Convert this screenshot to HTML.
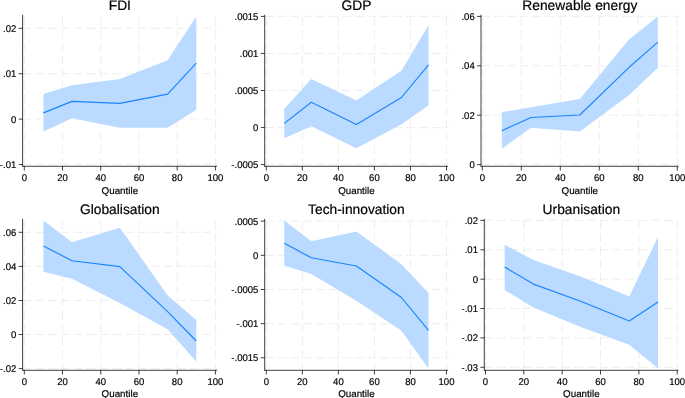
<!DOCTYPE html>
<html lang="en"><head><meta charset="utf-8"><title>Quantile regression coefficient plots</title>
<style>html,body{margin:0;padding:0;background:#fff}body{width:685px;height:398px;overflow:hidden}svg{display:block}</style>
</head><body>
<svg width="685" height="398" viewBox="0 0 685 398" font-family='"Liberation Sans", Arial, Helvetica, sans-serif' text-rendering="geometricPrecision">
<rect width="685" height="398" fill="#fff"/>
<g stroke="#e7e7e7" stroke-width="0.7" stroke-dasharray="8.6 4.25" fill="none"><line x1="24.30" y1="167.00" x2="24.30" y2="14.80"/><line x1="62.52" y1="167.00" x2="62.52" y2="14.80"/><line x1="100.74" y1="167.00" x2="100.74" y2="14.80"/><line x1="138.96" y1="167.00" x2="138.96" y2="14.80"/><line x1="177.18" y1="167.00" x2="177.18" y2="14.80"/><line x1="215.40" y1="167.00" x2="215.40" y2="14.80"/><line x1="22.60" y1="28.30" x2="217.10" y2="28.30"/><line x1="22.60" y1="73.70" x2="217.10" y2="73.70"/><line x1="22.60" y1="119.10" x2="217.10" y2="119.10"/><line x1="22.60" y1="164.50" x2="217.10" y2="164.50"/></g>
<polygon points="43.41,94.10 72.08,85.30 119.85,78.90 167.62,60.20 196.29,16.40 196.29,109.80 167.62,127.80 119.85,127.80 72.08,118.30 43.41,131.60" fill="#badaff"/>
<polyline points="43.41,112.90 72.08,101.40 119.85,103.40 167.62,94.10 196.29,63.10" fill="none" stroke="#1a85ff" stroke-width="1.15" stroke-linejoin="round"/>
<g stroke="#000" stroke-width="0.75" fill="none"><line x1="22.60" y1="14.80" x2="22.60" y2="166.60"/><line x1="22.30" y1="166.30" x2="217.10" y2="166.30"/><line x1="24.30" y1="166.30" x2="24.30" y2="170.50"/><line x1="62.52" y1="166.30" x2="62.52" y2="170.50"/><line x1="100.74" y1="166.30" x2="100.74" y2="170.50"/><line x1="138.96" y1="166.30" x2="138.96" y2="170.50"/><line x1="177.18" y1="166.30" x2="177.18" y2="170.50"/><line x1="215.40" y1="166.30" x2="215.40" y2="170.50"/><line x1="18.70" y1="28.30" x2="22.60" y2="28.30"/><line x1="18.70" y1="73.70" x2="22.60" y2="73.70"/><line x1="18.70" y1="119.10" x2="22.60" y2="119.10"/><line x1="18.70" y1="164.50" x2="22.60" y2="164.50"/></g>
<g font-size="9.8" fill="#000" stroke="#000" stroke-width="0.18"><text transform="translate(24.30,180.95) scale(0.975,1)" text-anchor="middle">0</text><text transform="translate(62.52,180.95) scale(0.975,1)" text-anchor="middle">20</text><text transform="translate(100.74,180.95) scale(0.975,1)" text-anchor="middle">40</text><text transform="translate(138.96,180.95) scale(0.975,1)" text-anchor="middle">60</text><text transform="translate(177.18,180.95) scale(0.975,1)" text-anchor="middle">80</text><text transform="translate(215.40,180.95) scale(0.975,1)" text-anchor="middle">100</text><text transform="translate(16.30,31.75) scale(0.975,1)" text-anchor="end">.02</text><text transform="translate(16.30,77.15) scale(0.975,1)" text-anchor="end">.01</text><text transform="translate(16.30,122.55) scale(0.975,1)" text-anchor="end">0</text><text transform="translate(16.30,167.95) scale(0.975,1)" text-anchor="end">-.01</text><text x="119.85" y="193.60" text-anchor="middle">Quantile</text></g>
<text x="119.85" y="9.70" text-anchor="middle" font-size="13.8" fill="#000" stroke="#000" stroke-width="0.2">FDI</text>
<g stroke="#e7e7e7" stroke-width="0.7" stroke-dasharray="8.6 4.25" fill="none"><line x1="266.30" y1="167.00" x2="266.30" y2="14.80"/><line x1="302.34" y1="167.00" x2="302.34" y2="14.80"/><line x1="338.38" y1="167.00" x2="338.38" y2="14.80"/><line x1="374.42" y1="167.00" x2="374.42" y2="14.80"/><line x1="410.46" y1="167.00" x2="410.46" y2="14.80"/><line x1="446.50" y1="167.00" x2="446.50" y2="14.80"/><line x1="264.70" y1="16.40" x2="448.10" y2="16.40"/><line x1="264.70" y1="53.45" x2="448.10" y2="53.45"/><line x1="264.70" y1="90.50" x2="448.10" y2="90.50"/><line x1="264.70" y1="127.55" x2="448.10" y2="127.55"/><line x1="264.70" y1="164.60" x2="448.10" y2="164.60"/></g>
<polygon points="284.32,108.70 311.35,78.90 356.40,100.50 401.45,70.70 428.48,25.20 428.48,105.50 401.45,124.30 356.40,148.20 311.35,126.30 284.32,138.30" fill="#badaff"/>
<polyline points="284.32,123.40 311.35,102.30 356.40,124.40 401.45,97.50 428.48,64.90" fill="none" stroke="#1a85ff" stroke-width="1.15" stroke-linejoin="round"/>
<g stroke="#000" stroke-width="0.75" fill="none"><line x1="264.70" y1="14.80" x2="264.70" y2="166.60"/><line x1="264.40" y1="166.30" x2="448.10" y2="166.30"/><line x1="266.30" y1="166.30" x2="266.30" y2="170.50"/><line x1="302.34" y1="166.30" x2="302.34" y2="170.50"/><line x1="338.38" y1="166.30" x2="338.38" y2="170.50"/><line x1="374.42" y1="166.30" x2="374.42" y2="170.50"/><line x1="410.46" y1="166.30" x2="410.46" y2="170.50"/><line x1="446.50" y1="166.30" x2="446.50" y2="170.50"/><line x1="260.80" y1="16.40" x2="264.70" y2="16.40"/><line x1="260.80" y1="53.45" x2="264.70" y2="53.45"/><line x1="260.80" y1="90.50" x2="264.70" y2="90.50"/><line x1="260.80" y1="127.55" x2="264.70" y2="127.55"/><line x1="260.80" y1="164.60" x2="264.70" y2="164.60"/></g>
<g font-size="9.8" fill="#000" stroke="#000" stroke-width="0.18"><text transform="translate(266.30,180.95) scale(0.975,1)" text-anchor="middle">0</text><text transform="translate(302.34,180.95) scale(0.975,1)" text-anchor="middle">20</text><text transform="translate(338.38,180.95) scale(0.975,1)" text-anchor="middle">40</text><text transform="translate(374.42,180.95) scale(0.975,1)" text-anchor="middle">60</text><text transform="translate(410.46,180.95) scale(0.975,1)" text-anchor="middle">80</text><text transform="translate(446.50,180.95) scale(0.975,1)" text-anchor="middle">100</text><text transform="translate(258.40,19.85) scale(0.975,1)" text-anchor="end">.0015</text><text transform="translate(258.40,56.90) scale(0.975,1)" text-anchor="end">.001</text><text transform="translate(258.40,93.95) scale(0.975,1)" text-anchor="end">.0005</text><text transform="translate(258.40,131.00) scale(0.975,1)" text-anchor="end">0</text><text transform="translate(258.40,168.05) scale(0.975,1)" text-anchor="end">-.0005</text><text x="356.40" y="193.60" text-anchor="middle">Quantile</text></g>
<text x="356.40" y="9.70" text-anchor="middle" font-size="13.8" fill="#000" stroke="#000" stroke-width="0.2">GDP</text>
<g stroke="#e7e7e7" stroke-width="0.7" stroke-dasharray="8.6 4.25" fill="none"><line x1="482.30" y1="167.00" x2="482.30" y2="14.80"/><line x1="521.30" y1="167.00" x2="521.30" y2="14.80"/><line x1="560.30" y1="167.00" x2="560.30" y2="14.80"/><line x1="599.30" y1="167.00" x2="599.30" y2="14.80"/><line x1="638.30" y1="167.00" x2="638.30" y2="14.80"/><line x1="677.30" y1="167.00" x2="677.30" y2="14.80"/><line x1="481.00" y1="16.40" x2="678.60" y2="16.40"/><line x1="481.00" y1="65.80" x2="678.60" y2="65.80"/><line x1="481.00" y1="115.20" x2="678.60" y2="115.20"/><line x1="481.00" y1="164.60" x2="678.60" y2="164.60"/></g>
<polygon points="501.80,112.20 531.05,107.20 579.80,99.10 628.55,40.10 657.80,16.40 657.80,67.80 628.55,95.60 579.80,131.60 531.05,127.80 501.80,148.80" fill="#badaff"/>
<polyline points="501.80,130.70 531.05,117.50 579.80,115.00 628.55,67.80 657.80,42.10" fill="none" stroke="#1a85ff" stroke-width="1.15" stroke-linejoin="round"/>
<g stroke="#000" stroke-width="0.75" fill="none"><line x1="481.00" y1="14.80" x2="481.00" y2="166.60"/><line x1="480.70" y1="166.30" x2="678.60" y2="166.30"/><line x1="482.30" y1="166.30" x2="482.30" y2="170.50"/><line x1="521.30" y1="166.30" x2="521.30" y2="170.50"/><line x1="560.30" y1="166.30" x2="560.30" y2="170.50"/><line x1="599.30" y1="166.30" x2="599.30" y2="170.50"/><line x1="638.30" y1="166.30" x2="638.30" y2="170.50"/><line x1="677.30" y1="166.30" x2="677.30" y2="170.50"/><line x1="477.10" y1="16.40" x2="481.00" y2="16.40"/><line x1="477.10" y1="65.80" x2="481.00" y2="65.80"/><line x1="477.10" y1="115.20" x2="481.00" y2="115.20"/><line x1="477.10" y1="164.60" x2="481.00" y2="164.60"/></g>
<g font-size="9.8" fill="#000" stroke="#000" stroke-width="0.18"><text transform="translate(482.30,180.95) scale(0.975,1)" text-anchor="middle">0</text><text transform="translate(521.30,180.95) scale(0.975,1)" text-anchor="middle">20</text><text transform="translate(560.30,180.95) scale(0.975,1)" text-anchor="middle">40</text><text transform="translate(599.30,180.95) scale(0.975,1)" text-anchor="middle">60</text><text transform="translate(638.30,180.95) scale(0.975,1)" text-anchor="middle">80</text><text transform="translate(677.30,180.95) scale(0.975,1)" text-anchor="middle">100</text><text transform="translate(474.70,19.85) scale(0.975,1)" text-anchor="end">.06</text><text transform="translate(474.70,69.25) scale(0.975,1)" text-anchor="end">.04</text><text transform="translate(474.70,118.65) scale(0.975,1)" text-anchor="end">.02</text><text transform="translate(474.70,168.05) scale(0.975,1)" text-anchor="end">0</text><text x="579.80" y="193.60" text-anchor="middle">Quantile</text></g>
<text x="579.80" y="9.70" text-anchor="middle" font-size="13.8" fill="#000" stroke="#000" stroke-width="0.2">Renewable energy</text>
<g stroke="#e7e7e7" stroke-width="0.7" stroke-dasharray="8.6 4.25" fill="none"><line x1="24.30" y1="371.00" x2="24.30" y2="218.80"/><line x1="62.52" y1="371.00" x2="62.52" y2="218.80"/><line x1="100.74" y1="371.00" x2="100.74" y2="218.80"/><line x1="138.96" y1="371.00" x2="138.96" y2="218.80"/><line x1="177.18" y1="371.00" x2="177.18" y2="218.80"/><line x1="215.40" y1="371.00" x2="215.40" y2="218.80"/><line x1="22.60" y1="232.30" x2="217.10" y2="232.30"/><line x1="22.60" y1="266.40" x2="217.10" y2="266.40"/><line x1="22.60" y1="300.50" x2="217.10" y2="300.50"/><line x1="22.60" y1="334.50" x2="217.10" y2="334.50"/><line x1="22.60" y1="368.60" x2="217.10" y2="368.60"/></g>
<polygon points="43.41,220.40 72.08,242.30 119.85,227.70 167.62,295.40 196.29,320.10 196.29,361.40 167.62,329.20 119.85,303.00 72.08,278.80 43.41,271.80" fill="#badaff"/>
<polyline points="43.41,246.10 72.08,260.70 119.85,266.60 167.62,311.70 196.29,341.00" fill="none" stroke="#1a85ff" stroke-width="1.15" stroke-linejoin="round"/>
<g stroke="#000" stroke-width="0.75" fill="none"><line x1="22.60" y1="218.80" x2="22.60" y2="370.60"/><line x1="22.30" y1="370.30" x2="217.10" y2="370.30"/><line x1="24.30" y1="370.30" x2="24.30" y2="374.50"/><line x1="62.52" y1="370.30" x2="62.52" y2="374.50"/><line x1="100.74" y1="370.30" x2="100.74" y2="374.50"/><line x1="138.96" y1="370.30" x2="138.96" y2="374.50"/><line x1="177.18" y1="370.30" x2="177.18" y2="374.50"/><line x1="215.40" y1="370.30" x2="215.40" y2="374.50"/><line x1="18.70" y1="232.30" x2="22.60" y2="232.30"/><line x1="18.70" y1="266.40" x2="22.60" y2="266.40"/><line x1="18.70" y1="300.50" x2="22.60" y2="300.50"/><line x1="18.70" y1="334.50" x2="22.60" y2="334.50"/><line x1="18.70" y1="368.60" x2="22.60" y2="368.60"/></g>
<g font-size="9.8" fill="#000" stroke="#000" stroke-width="0.18"><text transform="translate(24.30,384.95) scale(0.975,1)" text-anchor="middle">0</text><text transform="translate(62.52,384.95) scale(0.975,1)" text-anchor="middle">20</text><text transform="translate(100.74,384.95) scale(0.975,1)" text-anchor="middle">40</text><text transform="translate(138.96,384.95) scale(0.975,1)" text-anchor="middle">60</text><text transform="translate(177.18,384.95) scale(0.975,1)" text-anchor="middle">80</text><text transform="translate(215.40,384.95) scale(0.975,1)" text-anchor="middle">100</text><text transform="translate(16.30,235.75) scale(0.975,1)" text-anchor="end">.06</text><text transform="translate(16.30,269.85) scale(0.975,1)" text-anchor="end">.04</text><text transform="translate(16.30,303.95) scale(0.975,1)" text-anchor="end">.02</text><text transform="translate(16.30,337.95) scale(0.975,1)" text-anchor="end">0</text><text transform="translate(16.30,372.05) scale(0.975,1)" text-anchor="end">-.02</text><text x="119.85" y="396.80" text-anchor="middle">Quantile</text></g>
<text x="119.85" y="213.70" text-anchor="middle" font-size="13.8" fill="#000" stroke="#000" stroke-width="0.2">Globalisation</text>
<g stroke="#e7e7e7" stroke-width="0.7" stroke-dasharray="8.6 4.25" fill="none"><line x1="266.30" y1="371.00" x2="266.30" y2="218.80"/><line x1="302.34" y1="371.00" x2="302.34" y2="218.80"/><line x1="338.38" y1="371.00" x2="338.38" y2="218.80"/><line x1="374.42" y1="371.00" x2="374.42" y2="218.80"/><line x1="410.46" y1="371.00" x2="410.46" y2="218.80"/><line x1="446.50" y1="371.00" x2="446.50" y2="218.80"/><line x1="264.70" y1="221.10" x2="448.10" y2="221.10"/><line x1="264.70" y1="255.30" x2="448.10" y2="255.30"/><line x1="264.70" y1="289.50" x2="448.10" y2="289.50"/><line x1="264.70" y1="323.70" x2="448.10" y2="323.70"/><line x1="264.70" y1="357.80" x2="448.10" y2="357.80"/></g>
<polygon points="284.32,220.40 311.35,241.20 356.40,231.50 401.45,264.20 428.48,292.90 428.48,368.40 401.45,330.80 356.40,300.70 311.35,273.90 284.32,265.70" fill="#badaff"/>
<polyline points="284.32,243.20 311.35,257.80 356.40,266.00 401.45,297.50 428.48,330.40" fill="none" stroke="#1a85ff" stroke-width="1.15" stroke-linejoin="round"/>
<g stroke="#000" stroke-width="0.75" fill="none"><line x1="264.70" y1="218.80" x2="264.70" y2="370.60"/><line x1="264.40" y1="370.30" x2="448.10" y2="370.30"/><line x1="266.30" y1="370.30" x2="266.30" y2="374.50"/><line x1="302.34" y1="370.30" x2="302.34" y2="374.50"/><line x1="338.38" y1="370.30" x2="338.38" y2="374.50"/><line x1="374.42" y1="370.30" x2="374.42" y2="374.50"/><line x1="410.46" y1="370.30" x2="410.46" y2="374.50"/><line x1="446.50" y1="370.30" x2="446.50" y2="374.50"/><line x1="260.80" y1="221.10" x2="264.70" y2="221.10"/><line x1="260.80" y1="255.30" x2="264.70" y2="255.30"/><line x1="260.80" y1="289.50" x2="264.70" y2="289.50"/><line x1="260.80" y1="323.70" x2="264.70" y2="323.70"/><line x1="260.80" y1="357.80" x2="264.70" y2="357.80"/></g>
<g font-size="9.8" fill="#000" stroke="#000" stroke-width="0.18"><text transform="translate(266.30,384.95) scale(0.975,1)" text-anchor="middle">0</text><text transform="translate(302.34,384.95) scale(0.975,1)" text-anchor="middle">20</text><text transform="translate(338.38,384.95) scale(0.975,1)" text-anchor="middle">40</text><text transform="translate(374.42,384.95) scale(0.975,1)" text-anchor="middle">60</text><text transform="translate(410.46,384.95) scale(0.975,1)" text-anchor="middle">80</text><text transform="translate(446.50,384.95) scale(0.975,1)" text-anchor="middle">100</text><text transform="translate(258.40,224.55) scale(0.975,1)" text-anchor="end">.0005</text><text transform="translate(258.40,258.75) scale(0.975,1)" text-anchor="end">0</text><text transform="translate(258.40,292.95) scale(0.975,1)" text-anchor="end">-.0005</text><text transform="translate(258.40,327.15) scale(0.975,1)" text-anchor="end">-.001</text><text transform="translate(258.40,361.25) scale(0.975,1)" text-anchor="end">-.0015</text><text x="356.40" y="396.80" text-anchor="middle">Quantile</text></g>
<text x="356.40" y="213.70" text-anchor="middle" font-size="13.8" fill="#000" stroke="#000" stroke-width="0.2">Tech-innovation</text>
<g stroke="#e7e7e7" stroke-width="0.7" stroke-dasharray="8.6 4.25" fill="none"><line x1="485.50" y1="371.00" x2="485.50" y2="218.80"/><line x1="523.84" y1="371.00" x2="523.84" y2="218.80"/><line x1="562.18" y1="371.00" x2="562.18" y2="218.80"/><line x1="600.52" y1="371.00" x2="600.52" y2="218.80"/><line x1="638.86" y1="371.00" x2="638.86" y2="218.80"/><line x1="677.20" y1="371.00" x2="677.20" y2="218.80"/><line x1="484.30" y1="220.40" x2="678.40" y2="220.40"/><line x1="484.30" y1="249.80" x2="678.40" y2="249.80"/><line x1="484.30" y1="279.20" x2="678.40" y2="279.20"/><line x1="484.30" y1="308.50" x2="678.40" y2="308.50"/><line x1="484.30" y1="337.90" x2="678.40" y2="337.90"/><line x1="484.30" y1="367.30" x2="678.40" y2="367.30"/></g>
<polygon points="504.67,244.70 533.42,260.10 581.35,276.80 629.28,296.60 658.03,236.80 658.03,368.40 629.28,344.80 581.35,327.30 533.42,307.50 504.67,289.90" fill="#badaff"/>
<polyline points="504.67,267.10 533.42,284.10 581.35,301.50 629.28,321.00 658.03,302.00" fill="none" stroke="#1a85ff" stroke-width="1.15" stroke-linejoin="round"/>
<g stroke="#000" stroke-width="0.75" fill="none"><line x1="484.30" y1="218.80" x2="484.30" y2="370.60"/><line x1="484.00" y1="370.30" x2="678.40" y2="370.30"/><line x1="485.50" y1="370.30" x2="485.50" y2="374.50"/><line x1="523.84" y1="370.30" x2="523.84" y2="374.50"/><line x1="562.18" y1="370.30" x2="562.18" y2="374.50"/><line x1="600.52" y1="370.30" x2="600.52" y2="374.50"/><line x1="638.86" y1="370.30" x2="638.86" y2="374.50"/><line x1="677.20" y1="370.30" x2="677.20" y2="374.50"/><line x1="480.40" y1="220.40" x2="484.30" y2="220.40"/><line x1="480.40" y1="249.80" x2="484.30" y2="249.80"/><line x1="480.40" y1="279.20" x2="484.30" y2="279.20"/><line x1="480.40" y1="308.50" x2="484.30" y2="308.50"/><line x1="480.40" y1="337.90" x2="484.30" y2="337.90"/><line x1="480.40" y1="367.30" x2="484.30" y2="367.30"/></g>
<g font-size="9.8" fill="#000" stroke="#000" stroke-width="0.18"><text transform="translate(485.50,384.95) scale(0.975,1)" text-anchor="middle">0</text><text transform="translate(523.84,384.95) scale(0.975,1)" text-anchor="middle">20</text><text transform="translate(562.18,384.95) scale(0.975,1)" text-anchor="middle">40</text><text transform="translate(600.52,384.95) scale(0.975,1)" text-anchor="middle">60</text><text transform="translate(638.86,384.95) scale(0.975,1)" text-anchor="middle">80</text><text transform="translate(677.20,384.95) scale(0.975,1)" text-anchor="middle">100</text><text transform="translate(478.00,223.85) scale(0.975,1)" text-anchor="end">.02</text><text transform="translate(478.00,253.25) scale(0.975,1)" text-anchor="end">.01</text><text transform="translate(478.00,282.65) scale(0.975,1)" text-anchor="end">0</text><text transform="translate(478.00,311.95) scale(0.975,1)" text-anchor="end">-.01</text><text transform="translate(478.00,341.35) scale(0.975,1)" text-anchor="end">-.02</text><text transform="translate(478.00,370.75) scale(0.975,1)" text-anchor="end">-.03</text><text x="581.35" y="396.80" text-anchor="middle">Quantile</text></g>
<text x="581.35" y="213.70" text-anchor="middle" font-size="13.8" fill="#000" stroke="#000" stroke-width="0.2">Urbanisation</text>
</svg>
</body></html>
